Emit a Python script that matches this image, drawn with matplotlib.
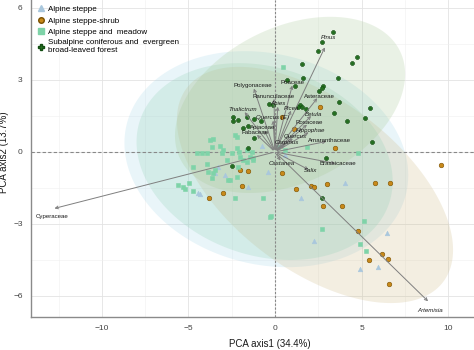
import numpy as np
import matplotlib.pyplot as plt
from matplotlib.lines import Line2D
from matplotlib.patches import Polygon

plt.rcParams['font.family'] = ['Liberation Sans', 'DejaVu Sans']

# 样点得分 (PCA axis1, axis2)
steppe_x = [2.25, 4.91, 5.95, 6.47, 4.05, 1.5, -1.56, -3.47, -2.89, -4.34, -0.4, -3.29, -0.75, 0.58, -4.45]
steppe_y = [-3.71, -4.88, -4.79, -3.38, -1.29, -1.92, -1.46, -0.88, -0.96, -1.75, -0.83, -0.63, 0.25, -0.13, -1.71]

shrub_x = [1.21, 2.08, 2.25, 3.01, 5.78, 6.65, 2.77, 3.87, 4.8, 6.18, 6.53, 5.43, 6.59,
           0.4, 1.1, 2.6, 3.47, -2.02, -1.56, 0.4, -1.91, -3.01, -3.82, 9.6]
shrub_y = [-1.54, -1.42, -1.46, -1.33, -1.29, -1.29, -2.25, -2.25, -3.29, -4.25, -4.46, -4.5, -5.5,
           1.46, 0.96, 1.88, 0.17, -0.75, -0.79, -0.88, -1.42, -1.71, -1.92, -0.54]

meadow_x = [-5.61, -5.32, -5.2, -4.97, -4.74, -4.51, -4.22, -3.93, -3.93, -3.87, -3.64, -3.58, -3.47,
            -3.06, -2.77, -2.72, -2.49, -2.2, -2.14, -2.02, -1.62, -1.33, -1.27, -2.31, -0.69, -0.29,
            -3.58, -3.64, -3.18, -3.01, -2.2, -2.08, -1.62, -1.45, -1.85, -1.27, -4.74, -2.6, 0.46,
            1.85, -2.31, 0.58, 0.17, -0.23, 2.72, 5.14, 4.91, 5.26, 4.8, -3.76, -2.2]
meadow_y = [-1.38, -1.46, -1.54, -1.29, -1.63, -0.04, -0.04, -0.04, -0.5, -0.83, -1.08, -0.88, -0.75,
            -0.04, -0.33, -1.17, -0.04, -1.04, -0.63, -0.21, -0.42, 0.0, -0.25, -1.92, -1.92, -2.71,
            0.54, 0.21, 0.25, 0.08, 0.17, 0.0, 0.08, -0.21, -0.33, -0.33, -0.63, -1.17, 3.54,
            0.21, 0.71, 0.08, 0.21, -2.67, -3.21, -2.88, -3.83, -4.13, -0.04, 0.5, 0.63]

forest_x = [3.35, 2.72, 2.49, 4.74, 4.45, 1.56, 3.64, 1.62, 0.69, 1.16, 2.77, 2.72, 2.54, 5.49, 3.7,
            5.2, 1.45, 1.56, 1.79, 4.16, 3.41, 5.61, 2.95, 2.72, -0.35, -0.12, -2.43, -2.43, -2.14,
            -1.85, -1.62, -1.56, -1.21, -0.81, -1.21, -1.56, -2.49, 1.33]
forest_y = [5.0, 4.58, 4.21, 3.96, 3.71, 3.67, 3.08, 3.08, 3.0, 2.75, 2.75, 2.67, 2.54, 1.83, 2.08,
            1.42, 1.96, 1.88, 1.79, 1.29, 1.63, 0.42, -0.25, -1.92, 2.0, 1.96, 1.46, 1.29, 1.33,
            1.0, 1.46, 1.08, 1.38, 1.29, 0.58, 0.17, -0.58, 1.88]

# 置信椭圆：中心, x/y 半幅, 相关系数
ell_center = [(-0.5, -0.3), (2.31, -1.375), (-0.6, -0.4), (0.87, 1.96)]
ell_extent = [(8.2, 4.5), (7.98, 4.92), (7.4, 4.1), (6.65, 3.67)]
ell_rho = [-0.15, -0.55, -0.2, 0.35]

# 变量载荷（箭头终点）
var_names = ['Pinus', 'Cyperaceae', 'Artemisia', 'Polygonaceae', 'Poaceae', 'Ranunculaceae',
             'Asteraceae', 'Abies', 'Picea', 'Betula', 'Thalictrum', 'Quercus (E)', 'Rosaceae',
             'Apiaceae', 'Hippophae', 'Fabaceae', 'Quercus', 'Amaranthaceae', 'Carpinus',
             'Castanea', 'Brassicaceae', 'Salix']
var_x = [2.95, -12.9, 8.96, -1.27, 1.04, -0.06, 2.54, 0.17, 0.98, 2.2, -1.85, -0.12, 1.97,
         -0.69, 2.08, -1.16, 1.16, 3.12, 0.69, 0.4, 3.64, 2.08]
var_y = [4.46, -2.38, -6.3, 2.75, 2.88, 2.33, 2.33, 2.0, 1.83, 1.58, 1.75, 1.42, 1.21,
         1.0, 0.875, 0.79, 0.625, 0.46, 0.375, -0.46, -0.5, -0.79]
italic_names = ['Pinus', 'Artemisia', 'Abies', 'Picea', 'Betula', 'Thalictrum', 'Quercus (E)',
                'Hippophae', 'Quercus', 'Carpinus', 'Castanea', 'Salix']

groups = ['Alpine steppe', 'Alpine steppe-shrub', 'Alpine steppe and  meadow',
          'Subalpine coniferous and  evergreen\nbroad-leaved forest']
ell_colors = ['#a3d6ea', '#cdb985', '#8fd0b4', '#a6c894']
pt_colors = ['#a9c7dd', '#c8891a', '#7ed3a8', '#23701f']
pt_edges = ['#a9c7dd', '#7a5000', '#7ed3a8', '#124d12']
markers = ['^', 'o', 's', 'P']

fig = plt.figure(figsize=(4.74, 3.5), dpi=100)
ax = fig.add_axes([31 / 474, 33 / 350, 443 / 474, 317 / 350])
ax.set_xlim(-14.1, 11.5)
ax.set_ylim(-6.875, 6.33)

t = np.linspace(0, 2 * np.pi, 200)
for (cx, cy), (ex, ey), r, c in zip(ell_center, ell_extent, ell_rho, ell_colors):
    xs = cx + ex * np.cos(t)
    ys = cy + ey * (r * np.cos(t) + np.sqrt(1 - r ** 2) * np.sin(t))
    ax.add_patch(Polygon(np.column_stack([xs, ys]), closed=True, facecolor=c,
                         edgecolor='none', alpha=0.24, zorder=1))

ax.axhline(0, color='#888888', linestyle=(0, (3, 2)), lw=0.8, zorder=2)
ax.axvline(0, color='#888888', linestyle=(0, (2, 1.5)), lw=0.8, zorder=2)

data = [(steppe_x, steppe_y), (shrub_x, shrub_y), (meadow_x, meadow_y), (forest_x, forest_y)]
for (xs, ys), m, c, ec in zip(data, markers, pt_colors, pt_edges):
    ax.scatter(xs, ys, marker=m, s=11, c=c, edgecolors=ec, linewidths=0.4, zorder=3)

for name, vx, vy in zip(var_names, var_x, var_y):
    ax.annotate('', xy=(vx, vy), xytext=(0, 0),
                arrowprops=dict(arrowstyle='->', color='#7f7f7f', lw=0.7, mutation_scale=5),
                zorder=4)
    style = 'italic' if name in italic_names else 'normal'
    if abs(vx) > 4 or abs(vy) > 4:
        off = (2, 5) if vy > 0 else (0, -5)
    else:
        off = (0, 0)
    ax.annotate(name, xy=(vx, vy), xytext=off, textcoords='offset points',
                ha='center', va='center', fontsize=4.4, style=style, color='#1a1a1a', zorder=5)

ax.set_xticks([-10, -5, 0, 5, 10])
ax.set_yticks([-6, -3, 0, 3, 6])
ax.set_xticks([-12.5, -7.5, -2.5, 2.5, 7.5], minor=True)
ax.set_yticks([-4.5, -1.5, 1.5, 4.5], minor=True)
ax.grid(which='major', color='#e3e3e3', lw=0.6, zorder=0)
ax.grid(which='minor', color='#efefef', lw=0.4, zorder=0)
ax.set_axisbelow(True)
ax.tick_params(which='major', labelsize=6, colors='#444444', length=0, pad=6)
ax.tick_params(which='minor', length=0)
for s in ['top', 'right']:
    ax.spines[s].set_visible(False)
for s in ['left', 'bottom']:
    ax.spines[s].set_color('#8a8a8a')
    ax.spines[s].set_linewidth(1.0)

ax.set_xlabel('PCA axis1 (34.4%)', fontsize=7, color='#1a1a1a', labelpad=3)
ax.xaxis.set_label_coords(0.54, -0.07)
ax.set_ylabel('PCA axis2 (13.7%)', fontsize=7, color='#1a1a1a')
ax.yaxis.set_label_coords(-0.05, 0.52)

handles = [Line2D([], [], marker=m, ls='none', color=c, markeredgecolor=ec, markersize=4)
           for m, c, ec in zip(markers, pt_colors, pt_edges)]
ax.legend(handles, groups, loc='upper left', bbox_to_anchor=(0.0, 1.0), frameon=False,
          fontsize=5.8, handlelength=1.0, handletextpad=0.4, labelspacing=0.45,
          borderaxespad=0.3)

fig.savefig('out.png', dpi=100)
